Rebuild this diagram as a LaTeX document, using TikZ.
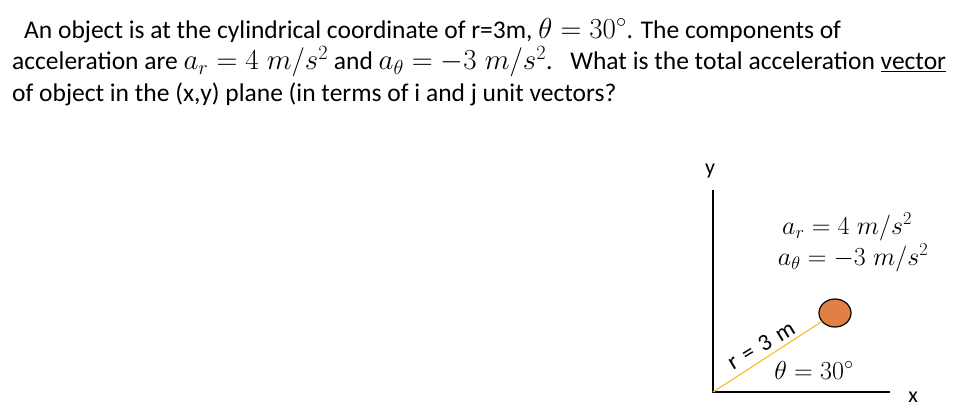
\RequirePackage{fix-cm}
\documentclass[tikz,border=0pt]{standalone}
\usepackage{fontspec}
\setmainfont{Carlito}
\usetikzlibrary{shapes.geometric}
\definecolor{ballorange}{RGB}{224,128,68}
\definecolor{rayyellow}{RGB}{245,192,50}
\newcommand{\qmath}[1]{{\fontsize{29}{31}\selectfont$#1$}}
\tikzset{
  qline/.style={anchor=base west,inner sep=0pt,font=\fontsize{25.5}{31}\selectfont},
  acclab/.style={inner sep=0pt,font=\fontsize{26}{30}\selectfont}
}
\begin{document}
\begin{tikzpicture}[x=1pt,y=-1pt]
\useasboundingbox (0,0) rectangle (968,412);
% question text
\node[qline] (q1) at (24,38) {An object is at the cylindrical coordinate of r=3m, \qmath{\theta=30^\circ}. The components of};
\node[qline] (q2) at (12,70) {acceleration are \qmath{a_r=4\;m/s^2} and \qmath{a_\theta=-3\;m/s^2}.\hspace{0.7em}What is the total acceleration \underline{vector}};
\node[qline] (q3) at (12,101) {of object in the (x,y) plane (in terms of i and j unit vectors?};
% axes
\coordinate (o) at (713,392);
\coordinate (ytop) at (713,190);
\coordinate (xend) at (890,392);
\draw[line width=1.3pt] (ytop) -- (o) -- (xend);
\node (ylab) at (710,171) {\fontsize{22}{26}\selectfont y};
\node (xlab) at (913,397) {\fontsize{22}{26}\selectfont x};
% object
\node[draw,line width=1.2pt,fill=ballorange,ellipse,minimum width=32pt,minimum height=28pt,inner sep=0pt] (ball) at (835,313) {};
\draw[rayyellow,line width=1.2pt] (o) -- (ball);
\node[rotate=31,inner sep=0pt] (rlab) at (761,345) {\fontsize{23.5}{26}\selectfont r\,\,=\,\,3\,\,m};
\node[acclab] (thlab) at (814,370) {$\theta=30^\circ$};
\node[acclab] (ar) at (847,227) {$a_r=4\;m/s^2$};
\node[acclab] (ath) at (853,258) {$a_\theta=-3\;m/s^2$};
\end{tikzpicture}
\end{document}
